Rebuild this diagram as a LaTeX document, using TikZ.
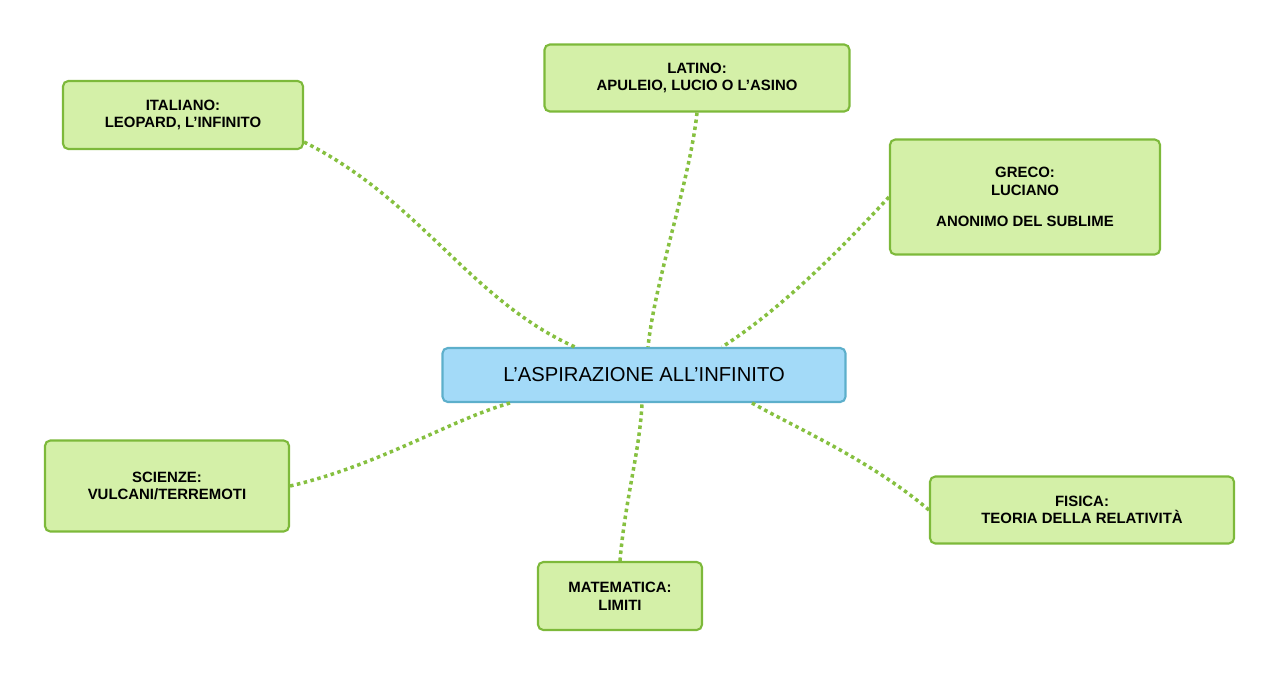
\documentclass[tikz,border=0pt]{standalone}
\usepackage{fontspec}
\setmainfont{Liberation Sans}
\definecolor{boxfill}{HTML}{D4F0A8}
\definecolor{boxline}{HTML}{7DB93A}
\definecolor{cenfill}{HTML}{A3DAF8}
\definecolor{cenline}{HTML}{5DAFCB}
\definecolor{linkcol}{HTML}{86C040}
\begin{document}
\begin{tikzpicture}[x=0.02cm,y=-0.02cm]
\tikzset{topic/.style={draw=boxline,fill=boxfill,line width=1.2pt,rounded corners=3pt,align=center,font=\bfseries\fontsize{8.5}{10}\selectfont,inner sep=2pt},
  root/.style={draw=cenline,fill=cenfill,line width=1.2pt,rounded corners=3pt,font=\fontsize{11.5}{13}\selectfont,inner sep=2pt},
  link/.style={linkcol,line width=2pt,dotted}}
\useasboundingbox (0,0) rectangle (1280,676);
% central node
\node[root,minimum width=403*0.02cm,minimum height=54*0.02cm] (cen) at (644,375) {L'ASPIRAZIONE ALL'INFINITO};
% topics
\node[topic,minimum width=240*0.02cm,minimum height=68*0.02cm] (ita) at (183,115) {ITALIANO:\\LEOPARD, L'INFINITO};
\node[topic,minimum width=305*0.02cm,minimum height=67*0.02cm] (lat) at (697,78) {LATINO:\\APULEIO, LUCIO O L'ASINO};
\node[topic,minimum width=270*0.02cm,minimum height=115*0.02cm] (gre) at (1025,197) {GRECO:\\LUCIANO\\[8pt]ANONIMO DEL SUBLIME};
\node[topic,minimum width=244*0.02cm,minimum height=91*0.02cm] (sci) at (167,486) {SCIENZE:\\VULCANI/TERREMOTI};
\node[topic,minimum width=164*0.02cm,minimum height=68*0.02cm] (mat) at (620,596) {MATEMATICA:\\LIMITI};
\node[topic,minimum width=304*0.02cm,minimum height=67*0.02cm] (fis) at (1082,510) {FISICA:\\TEORIA DELLA RELATIVIT\`A};
% links
\draw[link] (ita.south east) ++(0,-8) coordinate (a1) (a1) .. controls (420,200) and (470,300) .. (575,347);
\draw[link] (lat.south) .. controls (690,180) and (655,280) .. (648,347);
\draw[link] (gre.west) .. controls (840,250) and (780,310) .. (722,347);
\draw[link] (sci.east) .. controls (380,465) and (450,420) .. (510,403);
\draw[link] (mat.north) .. controls (625,500) and (640,450) .. (642,403);
\draw[link] (fis.west) .. controls (870,460) and (800,430) .. (752,403);
\end{tikzpicture}
\end{document}
